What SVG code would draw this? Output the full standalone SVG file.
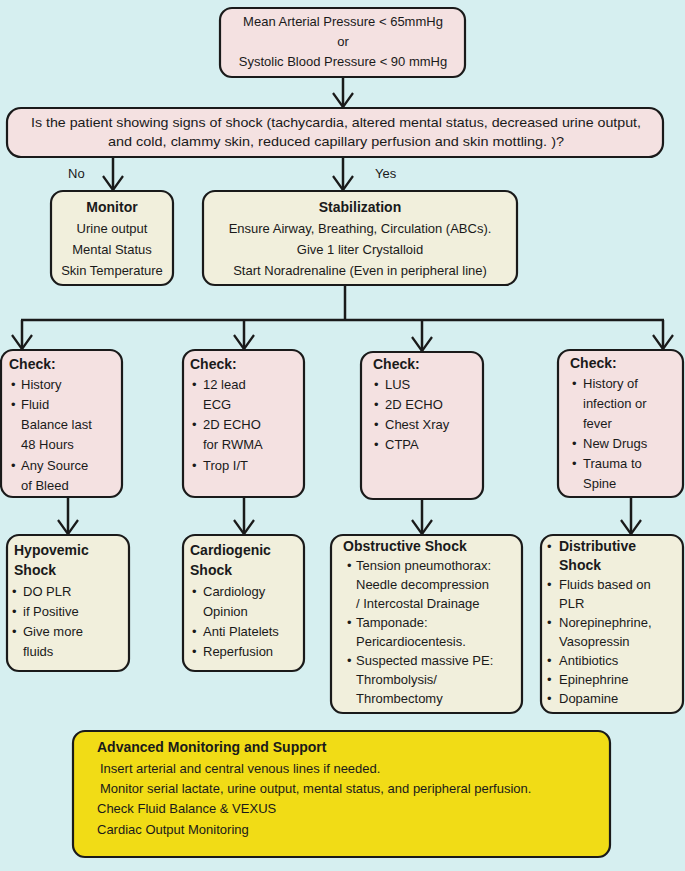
<svg xmlns="http://www.w3.org/2000/svg" width="685" height="871" viewBox="0 0 685 871">
<style>
.bg{fill:#d6eff0}
.p{fill:#f4e1e1;stroke:#1a1a1a;stroke-width:2.2}
.c{fill:#f1efdc;stroke:#1a1a1a;stroke-width:2.2}
.y{fill:#f1dc16;stroke:#1a1a1a;stroke-width:2.2}
text{font-family:"Liberation Sans",Arial,sans-serif;font-size:13px;fill:#1a1a1a}
.b{font-weight:bold;font-size:14px}
.m{text-anchor:middle}
.ln{stroke:#1a1a1a;stroke-width:2.5;fill:none}
</style>
<defs>
<marker id="v" markerUnits="userSpaceOnUse" markerWidth="20" markerHeight="24" refX="17" refY="12" orient="auto" viewBox="0 0 20 24">
<path d="M3,2 L17,12 L3,22" fill="none" stroke="#1a1a1a" stroke-width="2.2"/>
</marker>
</defs>
<rect class="bg" width="685" height="871"/>
<g id="connectors">
<line class="ln" x1="343" y1="77" x2="343" y2="107" marker-end="url(#v)"/>
<line class="ln" x1="113" y1="157" x2="113" y2="190" marker-end="url(#v)"/>
<line class="ln" x1="343" y1="157" x2="343" y2="190" marker-end="url(#v)"/>
<polyline class="ln" points="345,285 345,320"/>
<line class="ln" x1="21" y1="320" x2="664" y2="320"/>
<line class="ln" x1="22" y1="320" x2="22" y2="349" marker-end="url(#v)"/>
<line class="ln" x1="244" y1="320" x2="244" y2="349" marker-end="url(#v)"/>
<line class="ln" x1="422" y1="320" x2="422" y2="351" marker-end="url(#v)"/>
<line class="ln" x1="663" y1="320" x2="663" y2="349" marker-end="url(#v)"/>
<line class="ln" x1="68" y1="497" x2="68" y2="534" marker-end="url(#v)"/>
<line class="ln" x1="244" y1="497" x2="244" y2="534" marker-end="url(#v)"/>
<line class="ln" x1="422" y1="499" x2="422" y2="534" marker-end="url(#v)"/>
<line class="ln" x1="631" y1="497" x2="631" y2="534" marker-end="url(#v)"/>
<text x="68" y="178">No</text>
<text x="375" y="178">Yes</text>
</g>
<g id="map">
<rect class="p" x="220" y="8" width="245" height="69" rx="12"/>
<text class="m" x="343" y="26">Mean Arterial Pressure &lt; 65mmHg</text>
<text class="m" x="343" y="46">or</text>
<text class="m" x="343" y="66">Systolic Blood Pressure &lt; 90 mmHg</text>
</g>
<g id="question">
<rect class="p" x="7" y="108" width="656" height="49" rx="14"/>
<text class="m" x="336" y="127" textLength="610" lengthAdjust="spacingAndGlyphs">Is the patient showing signs of shock (tachycardia, altered mental status, decreased urine output,</text>
<text class="m" x="336" y="146" textLength="456" lengthAdjust="spacingAndGlyphs">and cold, clammy skin, reduced capillary perfusion and skin mottling. )?</text>
</g>
<g id="monitor">
<rect class="c" x="51" y="191" width="122" height="94" rx="12"/>
<text class="m b" x="112" y="212">Monitor</text>
<text class="m" x="112" y="233">Urine output</text>
<text class="m" x="112" y="254">Mental Status</text>
<text class="m" x="112" y="275">Skin Temperature</text>
</g>
<g id="stabilization">
<rect class="c" x="203" y="191" width="314" height="94" rx="12"/>
<text class="m b" x="360" y="212">Stabilization</text>
<text class="m" x="360" y="233">Ensure Airway, Breathing, Circulation (ABCs).</text>
<text class="m" x="360" y="254">Give 1 liter Crystalloid</text>
<text class="m" x="360" y="275">Start Noradrenaline (Even in peripheral line)</text>
</g>
<g id="check1">
<rect class="p" x="1" y="350" width="121" height="147" rx="12"/>
<text class="b" x="9" y="369">Check:</text>
<text x="11" y="389">•</text><text x="21" y="389">History</text>
<text x="11" y="409">•</text><text x="21" y="409">Fluid</text>
<text x="21" y="429">Balance last</text>
<text x="21" y="449">48 Hours</text>
<text x="11" y="470">•</text><text x="21" y="470">Any Source</text>
<text x="21" y="490">of Bleed</text>
</g>
<g id="check2">
<rect class="p" x="183" y="350" width="121" height="147" rx="12"/>
<text class="b" x="190" y="369">Check:</text>
<text x="192" y="389">•</text><text x="203" y="389">12 lead</text>
<text x="203" y="409">ECG</text>
<text x="192" y="429">•</text><text x="203" y="429">2D ECHO</text>
<text x="203" y="449">for RWMA</text>
<text x="192" y="470">•</text><text x="203" y="470">Trop I/T</text>
</g>
<g id="check3">
<rect class="p" x="361" y="352" width="122" height="147" rx="12"/>
<text class="b" x="373" y="369">Check:</text>
<text x="374" y="389">•</text><text x="385" y="389">LUS</text>
<text x="374" y="409">•</text><text x="385" y="409">2D ECHO</text>
<text x="374" y="429">•</text><text x="385" y="429">Chest Xray</text>
<text x="374" y="449">•</text><text x="385" y="449">CTPA</text>
</g>
<g id="check4">
<rect class="p" x="558" y="350" width="125" height="147" rx="12"/>
<text class="b" x="570" y="368">Check:</text>
<text x="572" y="388">•</text><text x="583" y="388">History of</text>
<text x="583" y="408">infection or</text>
<text x="583" y="428">fever</text>
<text x="572" y="448">•</text><text x="583" y="448">New Drugs</text>
<text x="572" y="468">•</text><text x="583" y="468">Trauma to</text>
<text x="583" y="488">Spine</text>
</g>
<g id="hypovemic">
<rect class="c" x="7" y="535" width="122" height="136" rx="12"/>
<text class="b" x="14" y="555">Hypovemic</text>
<text class="b" x="14" y="575">Shock</text>
<text x="12" y="596">•</text><text x="23" y="596">DO PLR</text>
<text x="12" y="616">•</text><text x="23" y="616">if Positive</text>
<text x="12" y="636">•</text><text x="23" y="636">Give more</text>
<text x="23" y="656">fluids</text>
</g>
<g id="cardiogenic">
<rect class="c" x="183" y="535" width="121" height="136" rx="12"/>
<text class="b" x="190" y="555">Cardiogenic</text>
<text class="b" x="190" y="575">Shock</text>
<text x="192" y="596">•</text><text x="203" y="596">Cardiology</text>
<text x="203" y="616">Opinion</text>
<text x="192" y="636">•</text><text x="203" y="636">Anti Platelets</text>
<text x="192" y="656">•</text><text x="203" y="656">Reperfusion</text>
</g>
<g id="obstructive">
<rect class="c" x="331" y="535" width="191" height="178" rx="12"/>
<text class="b" x="343" y="551">Obstructive Shock</text>
<text x="347" y="570">•</text><text x="356" y="570">Tension pneumothorax:</text>
<text x="356" y="589">Needle decompression</text>
<text x="356" y="608">/ Intercostal Drainage</text>
<text x="347" y="627">•</text><text x="356" y="627">Tamponade:</text>
<text x="356" y="646">Pericardiocentesis.</text>
<text x="347" y="665">•</text><text x="356" y="665">Suspected massive PE:</text>
<text x="356" y="684">Thrombolysis/</text>
<text x="356" y="703">Thrombectomy</text>
</g>
<g id="distributive">
<rect class="c" x="541" y="535" width="142" height="178" rx="12"/>
<text x="547" y="551">•</text><text class="b" x="559" y="551">Distributive</text>
<text class="b" x="559" y="570">Shock</text>
<text x="547" y="589">•</text><text x="559" y="589">Fluids based on</text>
<text x="559" y="608">PLR</text>
<text x="547" y="627">•</text><text x="559" y="627">Norepinephrine,</text>
<text x="559" y="646">Vasopressin</text>
<text x="547" y="665">•</text><text x="559" y="665">Antibiotics</text>
<text x="547" y="684">•</text><text x="559" y="684">Epinephrine</text>
<text x="547" y="703">•</text><text x="559" y="703">Dopamine</text>
</g>
<g id="advanced">
<rect class="y" x="73" y="731" width="537" height="126" rx="12"/>
<text class="b" x="97" y="752">Advanced Monitoring and Support</text>
<text x="100" y="773">Insert arterial and central venous lines if needed.</text>
<text x="100" y="793">Monitor serial lactate, urine output, mental status, and peripheral perfusion.</text>
<text x="97" y="813">Check Fluid Balance &amp; VEXUS</text>
<text x="97" y="834">Cardiac Output Monitoring</text>
</g>
</svg>
